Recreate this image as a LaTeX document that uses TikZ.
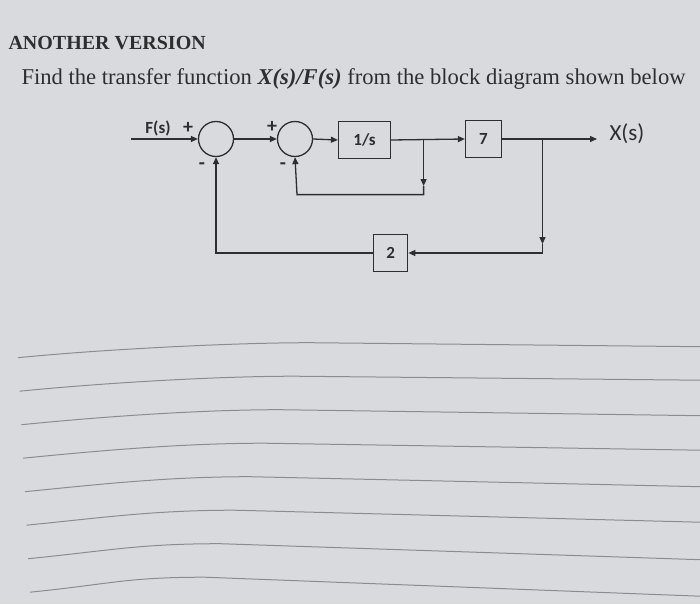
\documentclass[tikz,border=0pt]{standalone}
\usepackage{fontspec}
\setmainfont{Liberation Serif}
\newfontfamily\diagfont{Carlito}
\usetikzlibrary{arrows.meta}
\definecolor{paper}{HTML}{D9DADE}
\definecolor{ink}{HTML}{2E2E30}
\definecolor{rule}{HTML}{8C8C90}
\begin{document}
\begin{tikzpicture}[x=1pt,y=-1pt,
  blk/.style={draw=ink,line width=1.3pt,minimum width=#1,minimum height=37pt,inner sep=0pt,font=\diagfont\bfseries\fontsize{17}{17}\selectfont,text=ink},
  sumc/.style={draw=ink,line width=1.3pt,circle,minimum size=35pt,inner sep=0pt},
  sig/.style={draw=ink,line width=1.3pt,-{Triangle[length=7pt,width=6pt]}},
  sgn/.style={font=\diagfont\bfseries\fontsize{20}{20}\selectfont,text=ink},
  ruled/.style={draw=rule,line width=1pt}]
\fill[paper] (0,0) rectangle (700,604);
\useasboundingbox (0,0) rectangle (700,604);
\node[anchor=base west,font=\bfseries\fontsize{20}{20}\selectfont,text=ink] (title) at (5,50) {ANOTHER VERSION};
\node[anchor=base west,font=\fontsize{22.6}{22.6}\selectfont,text=ink] (q) at (18,85) {Find the transfer function \textit{\textbf{X(s)/F(s)}} from the block diagram shown below};
% diagram
\coordinate (in) at (131,139);
\node[sumc] (s1) at (216,139) {};
\node[sumc] (s2) at (295,139) {};
\node[blk=52pt] (b1) at (364.5,140) {1/s};
\node[blk=36pt] (b7) at (483.5,139) {7};
\node[blk=34pt] (b2) at (390.7,253) {2};
\coordinate (br1) at (423.6,139);
\coordinate (br1d) at (423.6,186);
\coordinate (br2) at (542.5,139);
\coordinate (br2d) at (542.5,244);
\coordinate (out) at (597,139);
\node[anchor=west,font=\diagfont\fontsize{23}{23}\selectfont,text=ink] (xs) at (606,134) {X(s)};
\node[font=\diagfont\bfseries\fontsize{17}{17}\selectfont,text=ink] (fs) at (158,128) {F(s)};
\node[sgn] (p1) at (188,128) {+};
\node[sgn] (m1) at (202,166) {-};
\node[sgn] (p2) at (272,127) {+};
\node[sgn] (m2) at (283,166) {-};
\draw[sig] (in) -- (s1.west);
\draw[sig] (s1.east) -- (s2.west);
\draw[sig] (s2.east) -- (b1.west);
\draw[sig] (b1.east) -- (b7.west);
\draw[sig] (b7.east) -- (out);
\draw[sig] (br1) -- (br1d);
\draw[sig] (br1d) |- (297,194.6) -- (s2.south);
\draw[sig] (br2) -- (br2d);
\draw[sig] (br2d) |- (b2.east);
\draw[sig] (b2.west) -| (s1.south);
% ruled lines
\foreach \i/\d in {0/-11,1/-11,2/-9,3/-8,4/-5,5/-3,6/1,7/4}{
  \pgfmathsetmacro{\yl}{357.7+33.5*\i}
  \pgfmathsetmacro{\xl}{18+1.7*\i}
  \pgfmathsetmacro{\yp}{\yl-15}
  \pgfmathsetmacro{\yr}{\yl+\d}
  \pgfmathsetmacro{\xp}{310-15*\i}
  \draw[ruled] (\xl,\yl) .. controls (\xl+80,\yl-8) and (\xp-80,\yp) .. (\xp,\yp) -- (700,\yr);
}
\end{tikzpicture}
\end{document}
